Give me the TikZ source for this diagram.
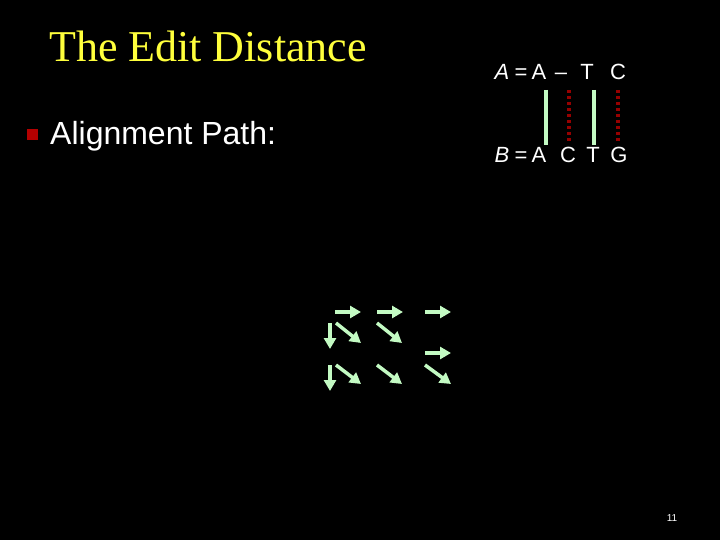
\documentclass[tikz,border=0pt]{standalone}
\usepackage{fontspec}
\setmainfont{Liberation Sans}
\newfontfamily\titlefont{Liberation Serif}
\usetikzlibrary{arrows.meta}
\definecolor{ttlyellow}{RGB}{255,255,60}
\definecolor{palegreen}{RGB}{195,250,195}
\definecolor{dotred}{RGB}{150,0,0}
\definecolor{bulletred}{RGB}{180,0,0}
\tikzset{
  arr/.style={draw=palegreen,line width=3.5pt,-{Triangle[length=11pt,width=12pt]}},
  matchbar/.style={draw=palegreen,line width=4pt},
  gapbar/.style={draw=dotred,line width=3.5pt,dash pattern=on 3.5pt off 2.5pt},
  seq/.style={text=white,font=\fontsize{22}{24}\selectfont,anchor=base,inner sep=0pt}
}
\begin{document}
\begin{tikzpicture}[x=1pt,y=-1pt]
\fill[black] (0,0) rectangle (720,540);
\useasboundingbox (0,0) rectangle (720,540);
% title
\node[anchor=base west,inner sep=0pt,text=ttlyellow,font=\titlefont\fontsize{44}{48}\selectfont] (title) at (49,62) {The Edit Distance};
% bullet
\fill[bulletred] (27,129.5) rectangle (38,140.5);
\node[anchor=base west,inner sep=0pt,text=white,font=\fontsize{32}{36}\selectfont] (bullet) at (50,145) {Alignment Path:};
% sequence A
\node[seq] (a0) at (502,80) {\textit{A}};
\node[seq] (a1) at (521,80) {=};
\node[seq] (a2) at (539,80) {A};
\node[seq] (a3) at (561,80) {–};
\node[seq] (a4) at (587,80) {T};
\node[seq] (a5) at (618,80) {C};
% sequence B
\node[seq] (b0) at (502,163) {\textit{B}};
\node[seq] (b1) at (521,163) {=};
\node[seq] (b2) at (539,163) {A};
\node[seq] (b3) at (568,163) {C};
\node[seq] (b4) at (593,163) {T};
\node[seq] (b5) at (619,163) {G};
% alignment bars
\draw[matchbar] (546,90) -- (546,145);
\draw[matchbar] (594,90) -- (594,145);
\draw[gapbar] (569,90) -- (569,143);
\draw[gapbar] (618,90) -- (618,143);
% arrows
\draw[arr] (335,312) -- (361,312);
\draw[arr] (377,312) -- (403,312);
\draw[arr] (425,312) -- (451,312);
\draw[arr] (330,323) -- (330,349);
\draw[arr] (336,323) -- (361,343);
\draw[arr] (377,323) -- (402,343);
\draw[arr] (425,353) -- (451,353);
\draw[arr] (330,365) -- (330,391);
\draw[arr] (336,365) -- (361,384);
\draw[arr] (377,365) -- (402,384);
\draw[arr] (425,365) -- (451,384);
% page number
\node[text=white,font=\fontsize{10}{12}\selectfont,inner sep=0pt] (pg) at (672,518) {11};
\end{tikzpicture}
\end{document}
